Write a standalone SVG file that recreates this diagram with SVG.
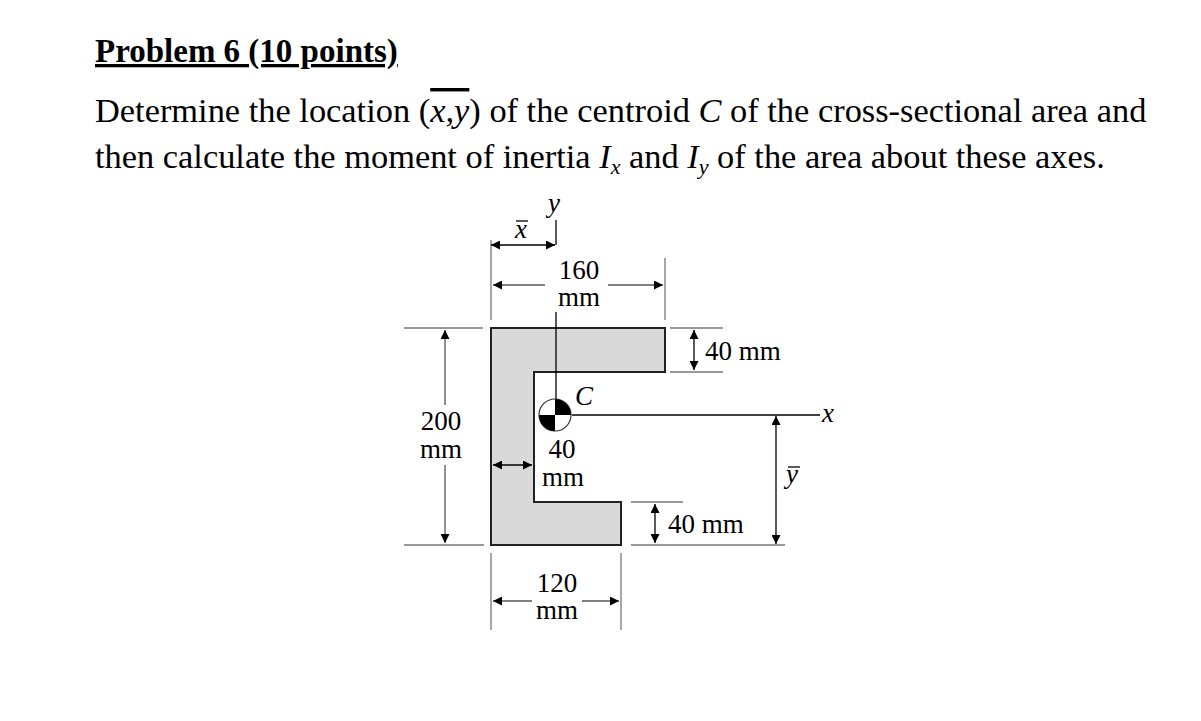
<svg xmlns="http://www.w3.org/2000/svg" width="1201" height="721" viewBox="0 0 1201 721">
<defs>
<marker id="ah" viewBox="0 0 10 10" refX="10" refY="5" markerWidth="13" markerHeight="9" orient="auto-start-reverse" markerUnits="userSpaceOnUse"><path d="M0,0L10,5L0,10z" fill="#000"/></marker>
</defs>
<style>
text{font-family:"Liberation Serif","Times New Roman",serif;fill:#000}
.t{font-size:34.4px}
.d{font-size:27px}
.i{font-style:italic}
.ext{stroke:#777;stroke-width:1.3;fill:none}
.dim{stroke:#000;stroke-width:1.3;fill:none}
.dg{stroke:#555;stroke-width:1.3;fill:none}
</style>
<rect width="1201" height="721" fill="#fff"/>
<text x="95" y="62" style="font-size:33px;font-weight:bold;text-decoration:underline">Problem 6 (10 points)</text>
<text class="t" x="95" y="122">Determine the location (<tspan class="i" text-decoration="overline">x,y</tspan>) of the centroid <tspan class="i">C</tspan> of the cross-sectional area and</text>
<text class="t" x="95" y="168">then calculate the moment of inertia <tspan class="i">I</tspan><tspan class="i" font-size="22" dy="6">x</tspan><tspan dy="-6"> and </tspan><tspan class="i">I</tspan><tspan class="i" font-size="22" dy="6">y</tspan><tspan dy="-6"> of the area about these axes.</tspan></text>
<g id="section">
<path d="M491,328H665V372H534V502H621V545H491Z" fill="#d9d9d9" stroke="#222" stroke-width="2"/>
</g>
<g id="axes">
<line class="dim" x1="556" y1="220" x2="556" y2="245"/>
<line class="dim" x1="556" y1="312" x2="556" y2="405"/>
<line class="dim" x1="572" y1="415" x2="820" y2="415"/>
<circle cx="555" cy="415" r="16" fill="#fff" stroke="#333" stroke-width="1.2"/>
<path d="M555,415V399A16,16 0 0 1 571,415Z M555,415V431A16,16 0 0 1 539,415Z" fill="#000"/>
<text class="d i" x="548" y="212">y</text>
<text class="d i" x="822" y="422">x</text>
<text class="d i" x="575" y="405">C</text>
</g>
<g id="connectors">
<line class="ext" x1="491" y1="240" x2="491" y2="320"/>
<line class="ext" x1="665" y1="258" x2="665" y2="320"/>
<line class="dim" x1="491" y1="245" x2="555" y2="245" marker-start="url(#ah)" marker-end="url(#ah)"/>
<line class="dg" x1="493" y1="285" x2="545" y2="285" marker-start="url(#ah)"/>
<line class="dg" x1="608" y1="285" x2="663" y2="285" marker-end="url(#ah)"/>
<line class="ext" x1="404" y1="328" x2="483" y2="328"/>
<line class="ext" x1="404" y1="545" x2="484" y2="545"/>
<line class="dg" x1="445" y1="405" x2="445" y2="330" marker-end="url(#ah)"/>
<line class="dg" x1="445" y1="465" x2="445" y2="543" marker-end="url(#ah)"/>
<line class="ext" x1="670" y1="328" x2="723" y2="328"/>
<line class="ext" x1="670" y1="372" x2="723" y2="372"/>
<line class="dim" x1="694" y1="330" x2="694" y2="370" marker-start="url(#ah)" marker-end="url(#ah)"/>
<line class="dim" x1="493" y1="465" x2="532" y2="465" marker-start="url(#ah)" marker-end="url(#ah)"/>
<line class="ext" x1="631" y1="502" x2="683" y2="502"/>
<line class="ext" x1="631" y1="545" x2="785" y2="545"/>
<line class="dim" x1="655" y1="504" x2="655" y2="543" marker-start="url(#ah)" marker-end="url(#ah)"/>
<line class="dim" x1="776" y1="416" x2="776" y2="544" marker-start="url(#ah)" marker-end="url(#ah)" stroke-width="2"/>
<line class="ext" x1="491" y1="553" x2="491" y2="630"/>
<line class="ext" x1="621" y1="553" x2="621" y2="630"/>
<line class="dg" x1="493" y1="601" x2="532" y2="601" marker-start="url(#ah)"/>
<line class="dg" x1="582" y1="601" x2="619" y2="601" marker-end="url(#ah)"/>
</g>
<g id="labels">
<text class="d i" x="515" y="238">x</text>
<line class="dim" x1="516" y1="221" x2="528" y2="221"/>
<text class="d" x="579" y="279" text-anchor="middle">160</text>
<text class="d" x="579" y="306" text-anchor="middle">mm</text>
<text class="d" x="441" y="430" text-anchor="middle">200</text>
<text class="d" x="441" y="458" text-anchor="middle">mm</text>
<text class="d" x="705" y="360">40 mm</text>
<text class="d" x="562" y="458" text-anchor="middle">40</text>
<text class="d" x="563" y="486" text-anchor="middle">mm</text>
<text class="d" x="668" y="533">40 mm</text>
<text class="d i" x="786" y="483">y</text>
<line class="dim" x1="788" y1="467" x2="800" y2="467"/>
<text class="d" x="557" y="592" text-anchor="middle">120</text>
<text class="d" x="557" y="619" text-anchor="middle">mm</text>
</g>
</svg>
